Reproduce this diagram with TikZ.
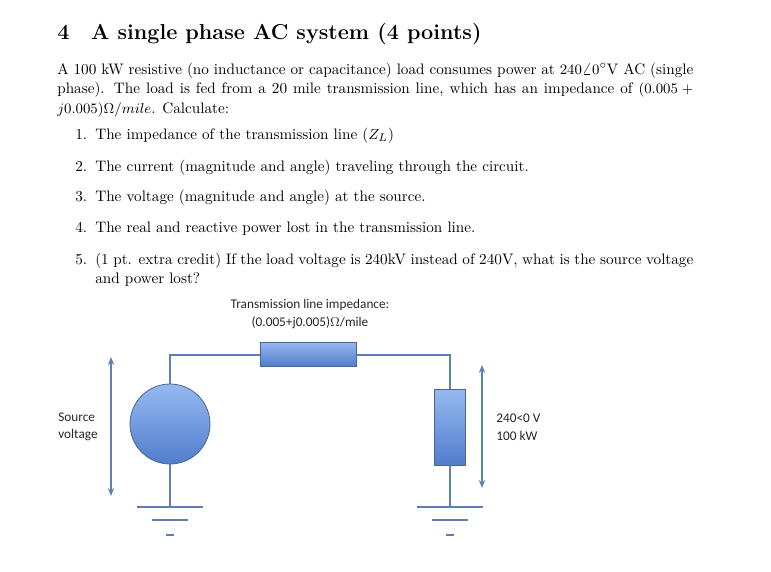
\documentclass[tikz,border=0pt]{standalone}
\usepackage{fontspec}
\newfontfamily\dia{Carlito}
\usetikzlibrary{arrows.meta}
\definecolor{wire}{RGB}{95,128,180}
\definecolor{ftop}{RGB}{150,185,240}
\definecolor{fbot}{RGB}{80,125,205}
\begin{document}
\begin{tikzpicture}[x=0.625pt,y=-0.625pt,
  every node/.style={font=\fontsize{9.5}{12}\selectfont},
  wirestyle/.style={draw=wire,line width=1.2pt},
  comp/.style={draw=wire!80!black,line width=0.5pt,top color=ftop,bottom color=fbot},
  dlabel/.style={font=\dia\fontsize{8.3}{11}\selectfont,text=black!85,align=left,inner sep=0pt},
  varrow/.style={wire,line width=1.2pt,{Stealth[length=5pt,width=4pt]}-{Stealth[length=5pt,width=4pt]}},
  body/.style={anchor=base west,inner sep=0pt,align=justify}]
\useasboundingbox (0,0) rectangle (771,571);
% text
\node[body,font=\fontsize{13.5}{16}\selectfont\bfseries] (head) at (57,40) {4\hspace{1em}A single phase AC system (4 points)};
\node[anchor=north west,inner sep=0pt,text width=636*0.625pt,align=justify] (para) at (57,63)
 {A 100 kW resistive (no inductance or capacitance) load consumes power at $240\angle0^\circ$V AC (single phase). The load is fed from a 20 mile transmission line, which has an impedance of $(0.005+j0.005)\Omega/mile$. Calculate:};
\node[body] (n1) at (75,139) {1.};
\node[body] (t1) at (95,139) {The impedance of the transmission line ($Z_L$)};
\node[body] (n2) at (75,171) {2.};
\node[body] (t2) at (95,171) {The current (magnitude and angle) traveling through the circuit.};
\node[body] (n3) at (75,201) {3.};
\node[body] (t3) at (95,201) {The voltage (magnitude and angle) at the source.};
\node[body] (n4) at (75,232) {4.};
\node[body] (t4) at (95,232) {The real and reactive power lost in the transmission line.};
\node[body] (n5) at (75,264) {5.};
\node[anchor=base west,inner sep=0pt,text width=598*0.625pt,align=justify] (t5) at (95,264)
 {(1 pt. extra credit) If the load voltage is 240kV instead of 240V, what is the source voltage and power lost?};
% diagram
\coordinate (tl) at (170,355);
\coordinate (tr) at (450,355);
\coordinate (gl) at (170,507);
\coordinate (gr) at (450,507);
\draw[wirestyle] (gl) -- (tl) -- (tr) -- (gr);
\foreach \g in {gl,gr}{
  \draw[wirestyle] ([xshift=-33*0.625pt]\g) -- ([xshift=33*0.625pt]\g);
  \draw[wirestyle] ([xshift=-18*0.625pt,yshift=-13*0.625pt]\g) -- ([xshift=18*0.625pt,yshift=-13*0.625pt]\g);
  \draw[wirestyle] ([xshift=-4*0.625pt,yshift=-28*0.625pt]\g) -- ([xshift=4*0.625pt,yshift=-28*0.625pt]\g);
}
\node[comp,circle,minimum size=80*0.625pt,inner sep=0pt] (src) at (170,424) {};
\node[comp,rectangle,minimum width=96*0.625pt,minimum height=24*0.625pt,inner sep=0pt] (zl) at (308,354) {};
\node[comp,rectangle,minimum width=31*0.625pt,minimum height=76*0.625pt,inner sep=0pt] (load) at (450,427) {};
\coordinate (la1) at (111,357); \coordinate (la2) at (111,496);
\coordinate (ra1) at (482,365); \coordinate (ra2) at (482,488);
\draw[varrow] (la1) -- (la2);
\draw[varrow] (ra1) -- (ra2);
\node[dlabel,align=center] (zlab) at (310,314) {Transmission line impedance:\\(0.005+j0.005)$\Omega$/mile};
\node[dlabel,anchor=west] (slab) at (58,427) {Source\\voltage};
\node[dlabel,anchor=west] (llab) at (496,427) {240<0 V\\100 kW};
\end{tikzpicture}
\end{document}
